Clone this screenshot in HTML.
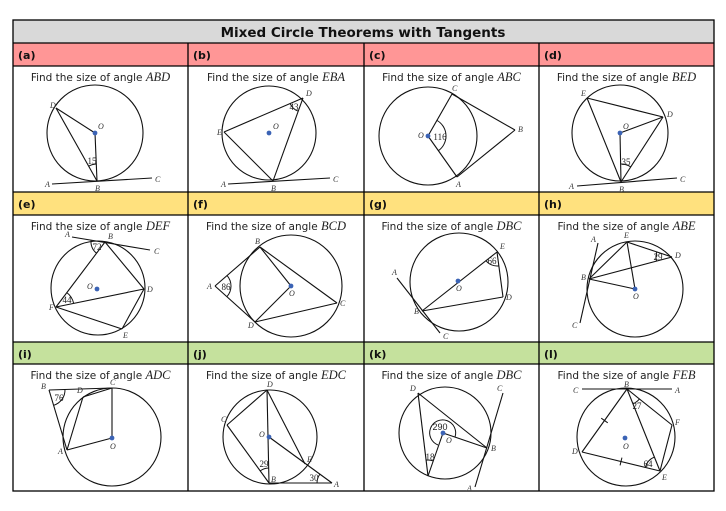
<!DOCTYPE html>
<html><head><meta charset="utf-8"><style>
html,body{margin:0;padding:0;background:#fff;width:726px;height:511px;overflow:hidden}
svg{position:absolute;left:0;top:0}
</style></head><body>
<svg id="s" width="726" height="511" viewBox="0 0 726 511" xmlns="http://www.w3.org/2000/svg"></svg>
<script>
const NS="http://www.w3.org/2000/svg";
const svg=document.getElementById('s');
function el(tag,attrs,parent,text){const e=document.createElementNS(NS,tag);for(const k in attrs)e.setAttribute(k,attrs[k]);if(text!==undefined)e.textContent=text;(parent||svg).appendChild(e);return e;}
const colX=[13,188,364,539,714];
const rowY=[[43,66,192],[192,215,342],[342,364,491]];
const headColors=['#ff9696','#ffe17e','#c5e19d'];
const letters=['a','b','c','d','e','f','g','h','i','j','k','l'];
const questions=['ABD','EBA','ABC','BED','DEF','BCD','DBC','ABE','ADC','EDC','DBC','FEB'];
const title=el('rect',{x:13,y:20,width:701,height:23,fill:'#d9d9d9'});


const tt=el('text',{x:363,y:37,'text-anchor':'middle','font-family':'"DejaVu Sans",sans-serif','font-weight':'bold','font-size':'13.5',fill:'#111'},null,'Mixed Circle Theorems with Tangents');


for(let r=0;r<3;r++){
  const hd=el('rect',{x:13,y:rowY[r][0],width:701,height:rowY[r][1]-rowY[r][0],fill:headColors[r]});
  
  
  for(let c=0;c<4;c++){
    const i=r*4+c;
    const lb=el('text',{x:colX[c]+5,y:rowY[r][0]+16,'font-family':'"DejaVu Sans",sans-serif','font-weight':'bold','font-size':'11',fill:'#111'},null,'('+letters[i]+')');
    
    
    const cx=(colX[c]+colX[c+1])/2;
    const q=el('text',{x:cx,y:rowY[r][1]+15,'text-anchor':'middle','font-family':'"DejaVu Sans",sans-serif','font-size':'10.5',fill:'#222'});
    
    
    el('tspan',{},q,'Find the size of angle ');
    el('tspan',{'font-family':'"Liberation Serif",serif','font-style':'italic','font-size':'12.5'},q,questions[i]);
  }
}
const g=el('g',{stroke:'#000','stroke-width':'1.3',fill:'none'});


el('rect',{x:13,y:20,width:701,height:471},g);
[43,66,192,215,342,364].forEach(y=>el('line',{x1:13,y1:y,x2:714,y2:y},g));
[188,364,539].forEach(x=>el('line',{x1:x,y1:43,x2:x,y2:491},g));

const D=[
 {c:[95,133,48],P:{D:[56,108],O:[95,133],B:[97,181],A:[52,184],C:[152,178]},L:[['D','O'],['D','B'],['O','B'],['A','C']],
  ang:[['B','D','O',17,'15',[92,164]]],lab:{D:[-6,0],O:[3,-4],A:[-7,3],B:[-2,10],C:[3,4]}},
 {c:[269,133,47],P:{D:[303,98],E:[224,132],O:[269,133],B:[273,181],A:[228,184],C:[330,178]},L:[['E','D'],['D','B'],['E','B'],['A','C']],
  ang:[['D','E','B',14,'43',[294,110]]],lab:{D:[3,-2],E:[-7,3],O:[4,-4],A:[-7,3],B:[-2,10],C:[3,4]}},
 {c:[428,136,49],P:{C:[452,94],A:[457,177],B:[515,130],O:[428,136]},L:[['O','C'],['O','A'],['C','B'],['A','B']],
  ang:[['O','C','A',18,'116',[440,140]]],lab:{C:[0,-3],A:[-1,10],B:[3,2],O:[-10,2]}},
 {c:[620,133,48],P:{E:[587,98],D:[663,117],O:[620,133],B:[621,182],A:[577,186],C:[677,178]},L:[['E','D'],['E','B'],['O','D'],['O','B'],['B','D'],['A','C']],
  ang:[['B','O','D',18,'35',[626,165]]],lab:{E:[-6,-2],D:[4,0],O:[3,-4],A:[-8,3],B:[-2,10],C:[3,4]}},
 {c:[98,288,47],P:{B:[105,242],A:[72,237],C:[150,250],F:[56,307],D:[144,289],E:[122,329],O:[97,289]},L:[['A','C'],['B','F'],['B','D'],['F','D'],['F','E'],['E','D']],
  ang:[['B','A','F',14,'72',[97,250]],['F','B','D',18,'44',[67,303]]],lab:{B:[3,-3],A:[-7,0],C:[4,4],F:[-7,3],D:[3,3],E:[1,9],O:[-10,0]}},
 {c:[291,286,51],P:{B:[260,247],A:[215,286],D:[255,322],C:[337,303],O:[291,286]},L:[['A','B'],['A','D'],['B','O'],['O','D'],['B','C'],['D','C']],
  ang:[['A','B','D',16,'86',[226,290]]],lab:{B:[-5,-3],A:[-8,3],D:[-7,6],C:[3,3],O:[-2,10]}},
 {c:[459,282,49],P:{E:[497,252],D:[503,297],B:[422,311],A:[397,278],C:[440,333],O:[458,281]},L:[['B','E'],['E','D'],['B','D'],['A','C']],
  ang:[['E','B','D',14,'66',[492,264]]],lab:{E:[3,-3],D:[3,3],B:[-8,3],A:[-5,-3],C:[3,6],O:[-2,10]}},
 {c:[635,289,48],P:{E:[627,242],D:[672,257],B:[589,279],A:[598,243],C:[580,323],O:[635,289]},L:[['B','E'],['E','D'],['B','D'],['E','O'],['B','O'],['A','C']],
  ang:[['D','E','B',16,'29',[658,260]]],lab:{E:[-3,-4],D:[3,1],B:[-8,1],A:[-7,-1],C:[-8,5],O:[-2,10]}},
 {c:[112,437,49],P:{C:[112,388],B:[49,390],D:[83,397],A:[67,450],O:[112,438]},L:[['B','C'],['B','A'],['C','D'],['D','A'],['C','O'],['A','O']],
  ang:[['B','C','A',16,'76',[59,401]]],lab:{C:[-2,-3],B:[-8,-1],D:[-6,-4],A:[-9,4],O:[-2,11]}},
 {c:[270,437,47],P:{D:[267,390],B:[269,483],C:[227,425],E:[305,464],A:[332,483],O:[269,437]},L:[['D','B'],['D','C'],['C','B'],['D','E'],['O','A'],['B','A']],
  ang:[['B','D','C',15,'29',[264,467]],['A','E','B',15,'30',[314,481]]],lab:{D:[0,-3],B:[2,-1],C:[-6,-3],E:[2,-2],A:[2,4],O:[-10,0]}},
 {c:[445,433,46],P:{D:[418,393],B:[487,448],F:[428,476],O:[443,433],C:[503,393],A:[475,487]},L:[['D','B'],['D','F'],['O','F'],['O','B'],['C','A']],
  ang:[['F','D','O',16,'18',[430,460]]],lab:{D:[-8,-2],B:[4,3],O:[3,10],C:[-6,-2],A:[-8,4]},nolab:['F']},
 {c:[626,437,49],P:{B:[627,389],C:[582,389],A:[672,389],F:[672,425],E:[660,471],D:[582,452],O:[625,438]},L:[['C','A'],['B','D'],['B','E'],['B','F'],['F','E'],['D','E']],
  ang:[['B','E','F',16,'27',[637,409]],['E','D','B',15,'64',[648,467]]],lab:{B:[-3,-2],C:[-9,4],A:[3,4],F:[3,0],E:[2,9],D:[-10,2],O:[-2,11]}},
];
D.forEach((d,i)=>{
  const grp=el('g',{});
  
  
  const circ=el('circle',{cx:d.c[0],cy:d.c[1],r:d.c[2],fill:'none',stroke:'#111','stroke-width':'1.1'},grp);
  
  
  d.L.forEach(([a,b])=>{
    const ln=el('line',{x1:d.P[a][0],y1:d.P[a][1],x2:d.P[b][0],y2:d.P[b][1],stroke:'#111','stroke-width':'1.1'},grp);
    
    
  });
  d.ang.forEach(([v,p1,p2,r,txt,lp])=>{
    const V=d.P[v],A1=d.P[p1],A2=d.P[p2];
    const a1=Math.atan2(A1[1]-V[1],A1[0]-V[0]),a2=Math.atan2(A2[1]-V[1],A2[0]-V[0]);
    let da=a2-a1;while(da>Math.PI)da-=2*Math.PI;while(da<-Math.PI)da+=2*Math.PI;
    const sx=V[0]+r*Math.cos(a1),sy=V[1]+r*Math.sin(a1),ex=V[0]+r*Math.cos(a1+da),ey=V[1]+r*Math.sin(a1+da);
    const arc=el('path',{d:`M${sx},${sy} A${r},${r} 0 0 ${da>0?1:0} ${ex},${ey}`,fill:'none',stroke:'#111','stroke-width':'1'},grp);
    
    
    const t=el('text',{x:lp[0],y:lp[1],'text-anchor':'middle','font-family':'"Liberation Serif",serif','font-size':'9',fill:'#222'},grp,txt);
    
    
  });
  if(i===10){
    const O=d.P.O;
    const arc=el('path',{d:`M${O[0]-5},${O[1]+12} A13,13 0 1 1 ${O[0]+12},${O[1]+4}`,fill:'none',stroke:'#111','stroke-width':'1'},grp);
    
    
    const t=el('text',{x:O[0]-3,y:O[1]-3,'text-anchor':'middle','font-family':'"Liberation Sans",sans-serif','font-size':'9',fill:'#222'},grp,'290');
    
    
  }
  if(i===11){
    [['B','D'],['D','E']].forEach(([a,b])=>{
      const P=d.P[a],Q=d.P[b],mx=(P[0]+Q[0])/2,my=(P[1]+Q[1])/2;
      const L=Math.hypot(Q[0]-P[0],Q[1]-P[1]),nx=-(Q[1]-P[1])/L*4,ny=(Q[0]-P[0])/L*4;
      const tk=el('line',{x1:mx-nx,y1:my-ny,x2:mx+nx,y2:my+ny,stroke:'#111','stroke-width':'1'},grp);
      
      
    });
  }
  if(d.P.O){
    const dot=el('circle',{cx:d.P.O[0],cy:d.P.O[1],r:2.4,fill:'#3b63b5'},grp);
    
    
  }
  for(const k in d.lab){
    const p=d.P[k],o=d.lab[k];
    const t=el('text',{x:p[0]+o[0],y:p[1]+o[1],'font-family':'"Liberation Serif",serif','font-style':'italic','font-size':'8',fill:'#333'},grp,k);
    
    
  }
});
</script>
</body></html>
